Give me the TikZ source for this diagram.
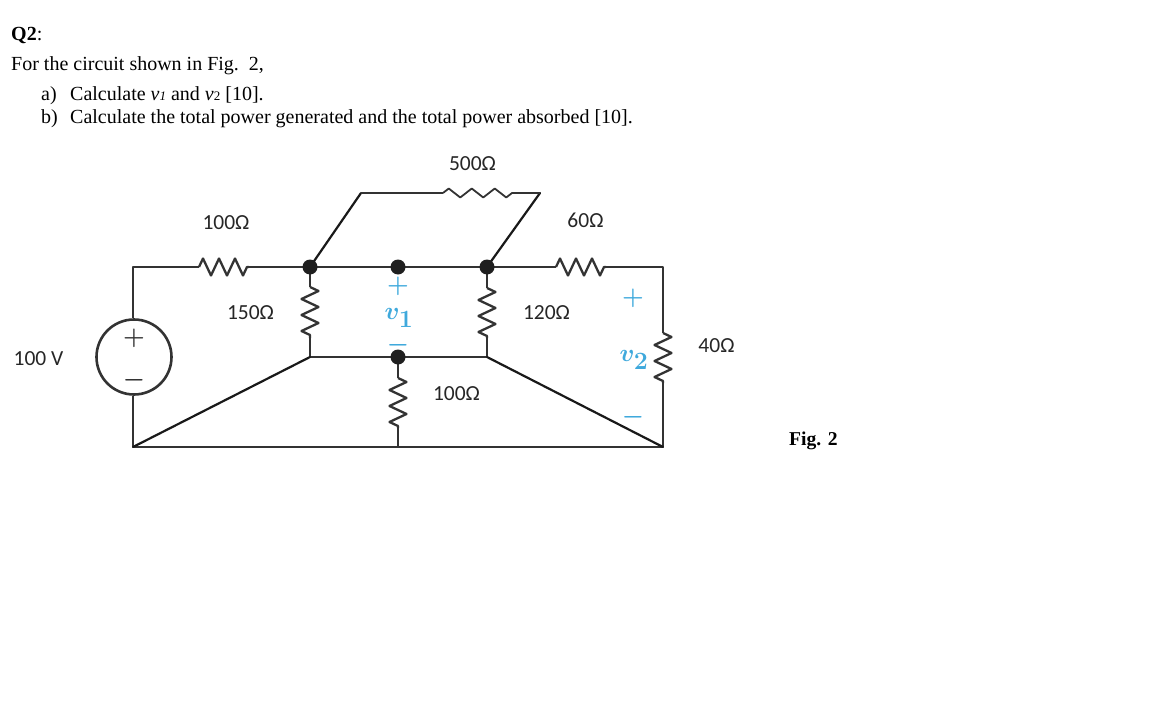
\documentclass[tikz,border=0pt]{standalone}
\usepackage[no-math]{fontspec}
\setmainfont{Liberation Serif}
\newfontfamily\lblfont{Carlito}
\usetikzlibrary{decorations.pathmorphing,backgrounds}
\definecolor{wirec}{HTML}{333333}
\definecolor{signc}{HTML}{3FA9DC}
\newcommand{\bigsign}[1]{\fontsize{38}{38}\selectfont\smash{$#1$}}
\newcommand{\blueglyph}[1]{\fontsize{36}{36}\selectfont$#1$}
\tikzset{
  wire/.style={draw=wirec,line width=2.3pt,line join=round},
  diag/.style={draw=black!90,line width=2.2pt,line cap=round},
  res/.style={decorate,decoration={zigzag,amplitude=8.5pt,segment length=16pt}},
  ressmall/.style={decorate,decoration={zigzag,amplitude=4.5pt,segment length=23pt}},
  dot/.style={circle,fill=black!88,inner sep=0pt,minimum size=15pt},
  lbl/.style={font=\lblfont\fontsize{21.5}{23}\selectfont,text=black!85,inner sep=0pt},
  txt/.style={font=\fontsize{20}{22}\selectfont,text=black,inner sep=0pt,anchor=base west},
  sgn/.style={text=signc,inner sep=0pt,font=\boldmath},
  srcsign/.style={text=wirec,inner sep=0pt,font=\boldmath},
  source/.style={circle,draw=wirec,line width=2.6pt,minimum size=75pt,inner sep=0pt}
}
\begin{document}
\begin{tikzpicture}[x=1pt,y=-1pt]
\useasboundingbox (0,0) rectangle (1152,720);
% text
\node[txt] (q) at (11,40) {\textbf{Q2}:};
\node[txt] (intro) at (11,70) {For the circuit shown in Fig.\ \ 2,};
\node[txt] (a) at (41,100) {a)};
\node[txt] (at) at (70,100) {Calculate {\itshape v}{\fontsize{13}{14}\selectfont\itshape 1} and {\itshape v}{\fontsize{13}{14}\selectfont 2} [10].};
\node[txt] (b) at (41,123) {b)};
\node[txt] (bt) at (70,123) {Calculate the total power generated and the total power absorbed [10].};
\node[txt,font=\fontsize{19.6}{22}\selectfont] (fig) at (789,445) {\textbf{Fig. 2}};
% junctions and corners
\coordinate (tl) at (133,267);
\coordinate (bl) at (133,447);
\coordinate (tr) at (663,267);
\coordinate (br) at (663,447);
\node[dot] (A) at (310,267) {};
\node[dot] (B) at (398,267) {};
\node[dot] (C) at (487,267) {};
\node[dot] (D) at (398,357) {};
\coordinate (E) at (310,357);
\coordinate (F) at (487,357);
\coordinate (G) at (398,447);
\coordinate (P) at (361,193);
\coordinate (Q) at (540,193);
% resistor ends
\coordinate (r1a) at (199,267); \coordinate (r1b) at (249,267);
\coordinate (r2a) at (556,267); \coordinate (r2b) at (606,267);
\coordinate (r3a) at (443,193); \coordinate (r3b) at (513,193);
\coordinate (r4a) at (310,287); \coordinate (r4b) at (310,338);
\coordinate (r5a) at (487,288); \coordinate (r5b) at (487,338);
\coordinate (r6a) at (398,378); \coordinate (r6b) at (398,428);
\coordinate (r7a) at (663,333); \coordinate (r7b) at (663,383);
% source
\node[source] (S) at (134,357) {};
% wires
\begin{pgfonlayer}{background}
\draw[wire] (S.north -| tl) -- (tl) -- (r1a);
\draw[wire,res] (r1a) -- (r1b);
\draw[wire] (r1b) -- (A.center) -- (B.center) -- (C.center) -- (r2a);
\draw[wire,res] (r2a) -- (r2b);
\draw[wire] (r2b) -- (tr) -- (r7a);
\draw[wire,res] (r7a) -- (r7b);
\draw[wire] (r7b) -- (br) -- (G) -- (bl) -- (S.south -| bl);
\draw[wire] (A.center) -- (r4a);
\draw[wire,res] (r4a) -- (r4b);
\draw[wire] (r4b) -- (E) -- (D.center) -- (F) -- (r5b);
\draw[wire,res] (r5a) -- (r5b);
\draw[wire] (r5a) -- (C.center);
\draw[wire] (D.center) -- (r6a);
\draw[wire,res] (r6a) -- (r6b);
\draw[wire] (r6b) -- (G);
\draw[diag] (bl) -- (E);
\draw[diag] (F) -- (br);
\draw[diag] (A.center) -- (P);
\draw[diag] (C.center) -- (Q);
\draw[wire,line width=1.8pt] (P) -- (r3a);
\draw[wire,line width=1.8pt,ressmall] (r3a) -- (r3b);
\draw[wire,line width=1.8pt] (r3b) -- (Q);
\end{pgfonlayer}
% labels
\node[lbl] (l500) at (472.5,163.5) {500Ω};
\node[lbl] (l100a) at (226,222.5) {100Ω};
\node[lbl] (l60) at (585.5,220.5) {60Ω};
\node[lbl] (l150) at (250.5,312.5) {150Ω};
\node[lbl] (l120) at (546.5,312.5) {120Ω};
\node[lbl] (l40) at (716.5,346) {40Ω};
\node[lbl] (l100b) at (456.5,393.5) {100Ω};
\node[lbl] (l100v) at (38.5,359) {100 V};
% signs
\node[srcsign] (sp) at (134,344.5) {\bigsign{+}};
\node[srcsign] (sm) at (134,386.5) {\bigsign{-}};
\node[sgn] (v1p) at (398,292) {\bigsign{+}};
\node[sgn] (v1) at (399,318) {\blueglyph{v_1}};
\node[sgn] (v1m) at (398,351.5) {\bigsign{-}};
\node[sgn] (v2p) at (633,304.5) {\bigsign{+}};
\node[sgn] (v2) at (634,360) {\blueglyph{v_2}};
\node[sgn] (v2m) at (633,423.5) {\bigsign{-}};
\end{tikzpicture}
\end{document}
